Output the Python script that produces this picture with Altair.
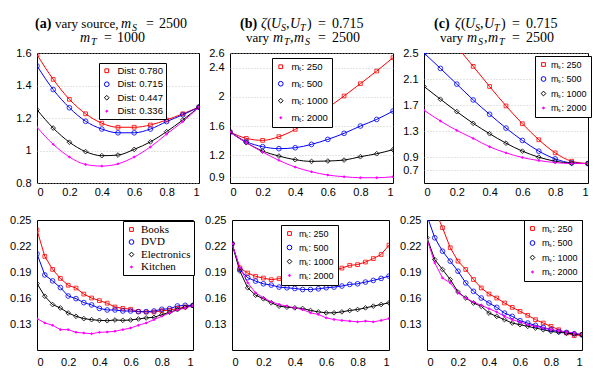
import altair as alt
import pandas as pd

# ---------------- data ----------------
x_top = [0.0, 0.1, 0.2, 0.3, 0.4, 0.5, 0.6, 0.7, 0.8, 0.9, 1.0]
x_bot = [0.0, 0.05, 0.1, 0.15, 0.2, 0.25, 0.3, 0.35, 0.4, 0.45, 0.5,
         0.55, 0.6, 0.65, 0.7, 0.75, 0.8, 0.85, 0.9, 0.95, 1.0]

labels_a = ["Dist: 0.780", "Dist: 0.715", "Dist: 0.447", "Dist: 0.336"]
a_780 = [1.59, 1.438, 1.315, 1.226, 1.168, 1.143, 1.143, 1.157, 1.188, 1.226, 1.267]
a_715 = [1.521, 1.375, 1.263, 1.18, 1.132, 1.109, 1.109, 1.132, 1.178, 1.22, 1.267]
a_447 = [1.251, 1.138, 1.051, 0.993, 0.968, 0.972, 1.007, 1.053, 1.116, 1.188, 1.267]
a_336 = [1.143, 1.038, 0.96, 0.914, 0.904, 0.918, 0.96, 1.022, 1.101, 1.178, 1.267]

labels_b = ["m\u209c: 250", "m\u209c: 500", "m\u209c: 1000", "m\u209c: 2000"]
b_250 = [1.518, 1.431, 1.404, 1.454, 1.554, 1.705, 1.851, 2.011, 2.18, 2.353, 2.536]
b_500 = [1.518, 1.385, 1.317, 1.29, 1.303, 1.349, 1.417, 1.5, 1.6, 1.691, 1.805]
b_1000 = [1.518, 1.372, 1.258, 1.189, 1.139, 1.116, 1.121, 1.134, 1.18, 1.221, 1.276]
b_2000 = [1.518, 1.372, 1.244, 1.13, 1.038, 0.974, 0.929, 0.906, 0.892, 0.892, 0.906]

labels_c = ["m\u209b: 250", "m\u209b: 500", "m\u209b: 1000", "m\u209b: 2000"]
c_250 = [3.2, 2.9, 2.6, 2.294, 1.985, 1.686, 1.412, 1.165, 0.964, 0.835, 0.799]
c_500 = [2.5, 2.263, 2.021, 1.778, 1.557, 1.345, 1.155, 0.99, 0.871, 0.809, 0.799]
c_1000 = [1.985, 1.789, 1.598, 1.418, 1.258, 1.113, 0.99, 0.897, 0.835, 0.804, 0.799]
c_2000 = [1.619, 1.454, 1.309, 1.186, 1.057, 0.964, 0.892, 0.845, 0.814, 0.799, 0.799]

labels_d = ["Books", "DVD", "Electronics", "Kitchen"]
d_books = [0.2384, 0.208, 0.193, 0.1826, 0.1747, 0.1715, 0.1645, 0.16, 0.157, 0.154, 0.1496,
           0.148, 0.147, 0.1445, 0.1438, 0.1438, 0.1452, 0.146, 0.148, 0.1496, 0.1512]
d_dvd = [0.211, 0.1866, 0.1797, 0.172, 0.1623, 0.1593, 0.1547, 0.152, 0.148, 0.1462, 0.1462,
         0.145, 0.145, 0.1442, 0.1442, 0.145, 0.147, 0.1477, 0.1508, 0.1515, 0.1515]
d_elec = [0.1767, 0.162, 0.1524, 0.1485, 0.1427, 0.1389, 0.1362, 0.135, 0.1342, 0.1338, 0.1346,
          0.1342, 0.1346, 0.1358, 0.137, 0.1377, 0.1408, 0.1435, 0.1466, 0.1493, 0.1512]
d_kitch = [0.1362, 0.1312, 0.1285, 0.1235, 0.1235, 0.1204, 0.1196, 0.1188, 0.1204, 0.1208, 0.1216,
           0.1235, 0.1254, 0.1285, 0.1312, 0.135, 0.1389, 0.1427, 0.1462, 0.1485, 0.1512]

e_250 = [0.2226, 0.1948, 0.1888, 0.185, 0.183, 0.1811, 0.1823, 0.1838, 0.185, 0.186, 0.187,
         0.1888, 0.19, 0.1915, 0.1945, 0.1977, 0.1985, 0.2015, 0.2055, 0.2102, 0.221]
e_500 = [0.2226, 0.193, 0.1834, 0.1795, 0.1764, 0.1749, 0.1726, 0.1718, 0.171, 0.1698, 0.1698,
         0.1706, 0.1718, 0.1726, 0.1738, 0.1757, 0.1764, 0.1784, 0.1803, 0.1826, 0.1853]
e_1000 = [0.2226, 0.1911, 0.1718, 0.1633, 0.1591, 0.1545, 0.1506, 0.1494, 0.1486, 0.1479, 0.1456,
          0.144, 0.1429, 0.1429, 0.144, 0.1456, 0.1467, 0.1486, 0.1506, 0.1525, 0.1545]
e_2000 = [0.2226, 0.1948, 0.1776, 0.166, 0.1602, 0.1556, 0.1525, 0.1506, 0.1486, 0.1467, 0.1429,
          0.141, 0.1371, 0.1352, 0.1341, 0.1333, 0.1325, 0.1333, 0.1325, 0.1341, 0.1363]

f_250 = [0.29, 0.262, 0.2411, 0.218, 0.2025, 0.1929, 0.1813, 0.1716, 0.1646, 0.16, 0.1542,
         0.1492, 0.1446, 0.14, 0.135, 0.1311, 0.1273, 0.1234, 0.1196, 0.1165, 0.1176]
f_500 = [0.255, 0.2295, 0.214, 0.2025, 0.1909, 0.1774, 0.1677, 0.16, 0.1542, 0.1492, 0.1426,
         0.1388, 0.1338, 0.1311, 0.1284, 0.1261, 0.1234, 0.1215, 0.1203, 0.1188, 0.1176]
f_1000 = [0.2295, 0.2044, 0.1929, 0.1813, 0.167, 0.16, 0.1542, 0.1504, 0.1426, 0.1388, 0.135,
          0.1311, 0.1292, 0.1273, 0.1253, 0.1234, 0.1215, 0.1203, 0.1196, 0.1184, 0.1176]
f_2000 = [0.2276, 0.2006, 0.1832, 0.1774, 0.1658, 0.16, 0.1554, 0.1515, 0.1477, 0.1438, 0.1388,
          0.135, 0.1323, 0.1292, 0.1273, 0.1253, 0.1234, 0.1222, 0.1207, 0.1196, 0.1176]

x_ticks = [0, 0.2, 0.4, 0.6, 0.8, 1]
yt_a = [0.8, 1.0, 1.2, 1.4, 1.6]
yt_b = [0.9, 1.2, 1.6, 2.0, 2.4, 2.6]
yt_c = [0.7, 0.9, 1.3, 1.7, 2.1, 2.5]
yt_bot = [0.13, 0.16, 0.19, 0.22, 0.25]

# ---------------- styles ----------------
LINE_COLORS = ["#ff0000", "#0000ff", "#000000", "#ff00ff"]
FILLS = ["transparent", "transparent", "transparent", "#ff00ff"]
DOT = "M-0.4,0A0.4,0.4 0 1,0 0.4,0A0.4,0.4 0 1,0 -0.4,0Z"
SQUARE = "M-0.8,-0.8L0.8,-0.8L0.8,0.8L-0.8,0.8Z"
SHAPES = [SQUARE, "circle", "diamond", DOT]
SERIF = "Liberation Serif"
SANS = "Liberation Sans"


def title_layers(pieces):
    out = []
    for txt, dx, dy, size, style, weight in pieces:
        out.append(
            alt.Chart(alt.Data(values=[{}])).mark_text(
                text=txt, align="left", baseline="alphabetic", font=SERIF,
                fontSize=size, fontStyle=style, fontWeight=weight, color="black"
            ).encode(x=alt.value(dx), y=alt.value(dy))
        )
    return out


def panel(xs, series, labels, ydom, yticks, yfmt, width, height, leg, grid,
          curve, lab_pad, min_ext, x_pad, titles=None):
    rows = []
    for lab, vals in zip(labels, series):
        for xv, yv in zip(xs, vals):
            rows.append({"x": xv, "y": yv, "s": lab})
    df = pd.DataFrame(rows)
    xenc = alt.X("x:Q", scale=alt.Scale(domain=[0, 1], nice=False),
                 axis=alt.Axis(values=x_ticks, format=".1~f", title=None, grid=False,
                               labelPadding=x_pad, labelAngle=0))
    yenc = alt.Y("y:Q", scale=alt.Scale(domain=ydom, nice=False, zero=False),
                 axis=alt.Axis(values=yticks, format=yfmt, title=None, grid=grid,
                               gridColor="#bbbbbb", gridDash=[1, 2], gridWidth=0.8,
                               labelPadding=lab_pad, minExtent=min_ext))
    legend = alt.Legend(title=None, **leg)
    base = alt.Chart(df)
    lines = []
    for lab, col in zip(labels, LINE_COLORS):
        lines.append(
            base.transform_filter(alt.datum.s == lab).mark_line(
                strokeWidth=1, clip=True, interpolate=curve, color=col
            ).encode(x=xenc, y=yenc)
        )
    pts = base.mark_point(filled=True, clip=True, opacity=1, strokeWidth=0.8, size=22).encode(
        x=xenc, y=yenc,
        stroke=alt.Stroke("s:N", scale=alt.Scale(domain=labels, range=LINE_COLORS), legend=legend),
        fill=alt.Fill("s:N", scale=alt.Scale(domain=labels, range=FILLS), legend=legend),
        shape=alt.Shape("s:N", scale=alt.Scale(domain=labels, range=SHAPES), legend=legend),
    )
    layers = lines + [pts]
    if titles:
        layers += title_layers(titles)
    return alt.layer(*layers).properties(width=width, height=height)


def leg(x, y, pad, rowpad, font, fsize, loff):
    return dict(orient="none", legendX=x, legendY=y, padding=pad, rowPadding=rowpad,
                labelFont=font, labelFontSize=fsize, labelColor="black", labelOffset=loff,
                strokeColor="black", fillColor="white", symbolSize=22,
                symbolStrokeWidth=1)


R, B, I, N = "normal", "bold", "italic", "normal"
titles_a = [
    ("(a)", -2, -25, 14, R, B), ("vary source,", 18, -25, 13, R, N),
    ("m", 84, -25, 14, I, N), ("S", 95, -22, 10, I, N),
    ("=", 109, -25, 14, R, N), ("2500", 122, -25, 14, R, N),
    ("m", 43, -11, 14, I, N), ("T", 54, -8, 10, I, N),
    ("=", 67, -11, 14, R, N), ("1000", 80, -11, 14, R, N),
]


def titles_bc(letter, s1, s2, s3, s4):
    return [
        (letter, 10, -25, 14, R, B), ("\u03b6", 31, -25, 14, I, N), ("(", 37, -25, 14, R, N),
        ("U", 41, -25, 14, I, N), (s1, 51, -22, 10, I, N), (",", 56, -25, 14, R, N),
        ("U", 60, -25, 14, I, N), (s2, 70, -22, 10, I, N), (")", 77, -25, 14, R, N),
        ("=", 88, -25, 14, R, N), ("0.715", 102, -25, 14, R, N),
        ("vary", 16, -11, 13, R, N), ("m", 43, -11, 14, I, N), (s3, 54, -8, 10, I, N),
        (",", 60, -11, 14, R, N), ("m", 64, -11, 14, I, N), (s4, 75, -8, 10, I, N),
        ("=", 88, -11, 14, R, N), ("2500", 102, -11, 14, R, N),
    ]


pa = panel(x_top, [a_780, a_715, a_447, a_336], labels_a, [0.8, 1.6], yt_a, ".1~f",
           162, 130, leg(62, 10, 3, 2.5, SANS, 9.5, 6), True, "monotone", 6, 22, 3, titles_a)
pb = panel(x_top, [b_250, b_500, b_1000, b_2000], labels_b, [0.82, 2.6], yt_b, ".1~f",
           163, 130, leg(42, 5, 4, 6, SANS, 9.5, 6), True, "monotone", 6, 22, 3,
           titles_bc("(b)", "S", "T", "T", "S"))
pc = panel(x_top, [c_250, c_500, c_1000, c_2000], labels_c, [0.5, 2.5], yt_c, ".1~f",
           164, 130, leg(111, 3, 4, 4.5, SANS, 9, 3), True, "monotone", 6, 22, 3,
           titles_bc("(c)", "S", "T", "S", "T"))

pd_ = panel(x_bot, [d_books, d_dvd, d_elec, d_kitch], labels_d, [0.10, 0.25], yt_bot, ".2f",
            156, 130, leg(86, 1, 3, 0.5, SERIF, 11, 4), False, "linear", 6, 28, 6)
pe = panel(x_bot, [e_250, e_500, e_1000, e_2000], labels_b, [0.10, 0.25], yt_bot, ".2f",
           157, 130, leg(49, 5, 4, 4, SANS, 9, 5), False, "linear", 6, 28, 6)
pf = panel(x_bot, [f_250, f_500, f_1000, f_2000], labels_c, [0.10, 0.25], yt_bot, ".2f",
           155, 130, leg(97, 0, 4, 4.5, SANS, 9, 5), False, "linear", 6, 28, 6)

RES = dict(stroke="independent", fill="independent", shape="independent")

top = alt.hconcat(pa, pb, pc, spacing=7).resolve_scale(**RES).resolve_legend(**RES)
bot = alt.hconcat(pd_, pe, pf, spacing=8).resolve_scale(**RES).resolve_legend(**RES)

chart = alt.vconcat(top, bot, spacing=15).resolve_scale(**RES).resolve_legend(**RES).properties(
    padding={"left": 0, "top": 8, "right": 0, "bottom": 0}
).configure_view(stroke="black", strokeWidth=1).configure_axis(
    labelFont=SANS, labelFontSize=11, labelColor="black", ticks=False, domain=False
)

chart.save("out.html", embed_options={"renderer": "svg", "actions": False})
